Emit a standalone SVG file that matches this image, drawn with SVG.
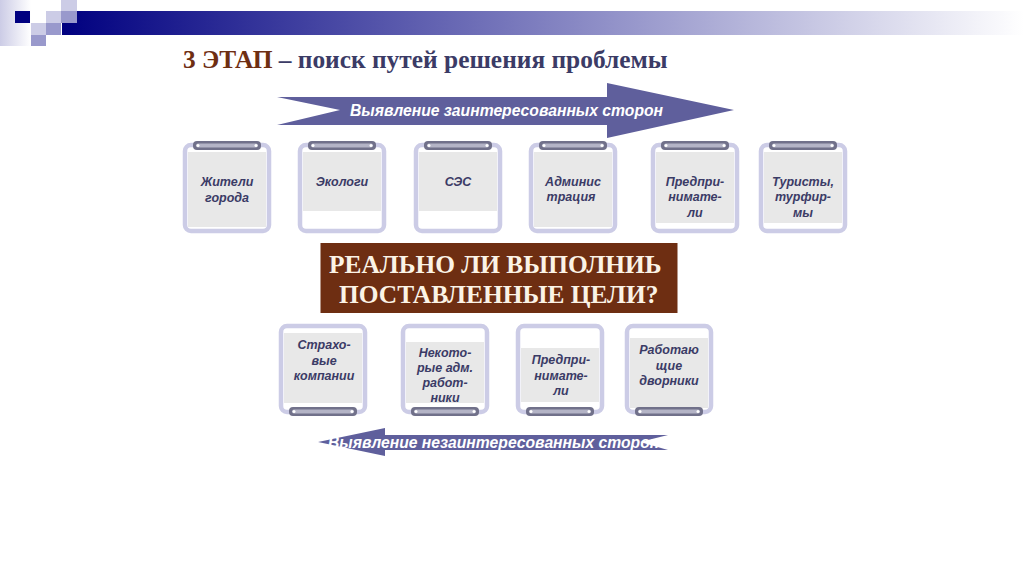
<svg xmlns="http://www.w3.org/2000/svg" width="1024" height="576" viewBox="0 0 1024 576">
<style>
.frame{fill:#fff;stroke:#ccccE6;stroke-width:4.5}
.panel{fill:#e8e8e8}
.bar{fill:#71718a}
.barin{fill:#b4b4c6}
.pin{fill:#fff}
.t{font-family:"Liberation Sans",Arial,sans-serif;font-weight:bold;font-style:italic;font-size:12.500px;fill:#3b3b66;text-anchor:middle}
.ar{fill:#5f5f9c}
.at{font-family:"Liberation Sans",Arial,sans-serif;font-weight:bold;font-style:italic;font-size:15.700px;fill:#fff}
.h{font-family:"Liberation Serif","Times New Roman",serif;font-weight:bold;font-size:25.400px}
</style>
<defs>
<linearGradient id="hdr"><stop offset="0" stop-color="#000080"/><stop offset="1" stop-color="#fff"/></linearGradient>
<linearGradient id="side"><stop offset="0" stop-color="#ccccE6"/><stop offset="1" stop-color="#fff"/></linearGradient>
<g id="binder"><rect class="bar" x="0" y="0" width="68" height="9" rx="4"/><rect class="barin" x="3" y="2.500" width="62" height="4" rx="2"/><circle class="pin" cx="5" cy="4.500" r="1.500"/><circle class="pin" cx="63" cy="4.500" r="1.500"/></g>
</defs>
<rect width="1024" height="576" fill="#fff"/>
<g id="header">
<rect x="0" y="0" width="31" height="46" fill="url(#side)"/>
<rect x="62" y="11" width="962" height="24" fill="url(#hdr)"/>
<rect x="15" y="11" width="15" height="12" fill="#000080"/>
<rect x="46" y="11" width="15" height="12" fill="#ccccE6"/>
<rect x="61" y="11" width="16" height="12" fill="#9999cc"/>
<rect x="61" y="0" width="16" height="11" fill="#ccccE6"/>
<rect x="31" y="23" width="15" height="12" fill="#ccccE6"/>
<rect x="46" y="23" width="15" height="12" fill="#9999cc"/>
<rect x="31" y="35" width="15" height="11" fill="#9999cc"/>
</g>
<text class="h" x="183" y="68"><tspan fill="#6e2e12">3 ЭТАП </tspan><tspan fill="#3b3b66">– поиск путей решения проблемы</tspan></text>
<g id="connectors">
<g id="arrow-top"><path class="ar" d="M277 97H607V83L734 110L607 138V125H277L340 110Z"/><text class="at" x="350" y="116">Выявление заинтересованных сторон</text></g>
<g id="arrow-bottom"><path class="ar" d="M318 442L385 428V435H668L640 442L668 450H385V456Z"/><text class="at" x="328" y="448">Выявление незаинтересованных сторон</text></g>
</g>
<g id="n1"><rect class="frame" x="185" y="145" width="84" height="86" rx="6"/><rect class="panel" x="188" y="152" width="78" height="75"/><use href="#binder" x="193" y="141"/><text class="t" x="227" y="186">Жители</text><text class="t" x="227" y="202">города</text></g>
<g id="n2"><rect class="frame" x="300" y="145" width="84" height="86" rx="6"/><rect class="panel" x="303" y="152" width="78" height="59"/><use href="#binder" x="308" y="141"/><text class="t" x="342" y="186">Экологи</text></g>
<g id="n3"><rect class="frame" x="416" y="145" width="84" height="86" rx="6"/><rect class="panel" x="419" y="152" width="78" height="59"/><use href="#binder" x="424" y="141"/><text class="t" x="458" y="186">СЭС</text></g>
<g id="n4"><rect class="frame" x="531" y="145" width="84" height="86" rx="6"/><rect class="panel" x="534" y="152" width="78" height="75"/><use href="#binder" x="539" y="141"/><text class="t" x="573" y="186">Админис</text><text class="t" x="571" y="201">трация</text></g>
<g id="n5"><rect class="frame" x="653" y="145" width="84" height="86" rx="6"/><rect class="panel" x="656" y="152" width="78" height="71"/><use href="#binder" x="661" y="141"/><text class="t" x="695" y="186">Предпри-</text><text class="t" x="695" y="201">нимате-</text><text class="t" x="695" y="217">ли</text></g>
<g id="n6"><rect class="frame" x="761" y="145" width="84" height="86" rx="6"/><rect class="panel" x="764" y="152" width="78" height="71"/><use href="#binder" x="769" y="141"/><text class="t" x="803" y="186">Туристы,</text><text class="t" x="803" y="201">турфир-</text><text class="t" x="803" y="217">мы</text></g>
<g id="question"><rect x="320.500" y="243" width="357" height="70" fill="#6e2e12"/><text class="h" x="329" y="273" fill="#fbf3e6">РЕАЛЬНО ЛИ ВЫПОЛНИЬ</text><text class="h" x="339" y="303" fill="#fbf3e6">ПОСТАВЛЕННЫЕ ЦЕЛИ?</text></g>
<g id="n7"><rect class="frame" x="281" y="326" width="84" height="86" rx="6"/><rect class="panel" x="284" y="333" width="78" height="70"/><use href="#binder" x="289" y="407"/><text class="t" x="324" y="349">Страхо-</text><text class="t" x="324" y="365">вые</text><text class="t" x="324" y="380">компании</text></g>
<g id="n8"><rect class="frame" x="403" y="326" width="84" height="86" rx="6"/><rect class="panel" x="406" y="342" width="78" height="61"/><use href="#binder" x="411" y="407"/><text class="t" x="445" y="357">Некото-</text><text class="t" x="445" y="372">рые адм.</text><text class="t" x="445" y="387">работ-</text><text class="t" x="445" y="402">ники</text></g>
<g id="n9"><rect class="frame" x="518" y="326" width="84" height="86" rx="6"/><rect class="panel" x="521" y="348" width="78" height="54"/><use href="#binder" x="526" y="407"/><text class="t" x="561" y="364">Предпри-</text><text class="t" x="561" y="380">нимате-</text><text class="t" x="561" y="395">ли</text></g>
<g id="n10"><rect class="frame" x="627" y="326" width="84" height="86" rx="6"/><rect class="panel" x="630" y="338" width="78" height="70"/><use href="#binder" x="635" y="407"/><text class="t" x="669" y="354">Работаю</text><text class="t" x="669" y="370">щие</text><text class="t" x="669" y="385">дворники</text></g>
</svg>
